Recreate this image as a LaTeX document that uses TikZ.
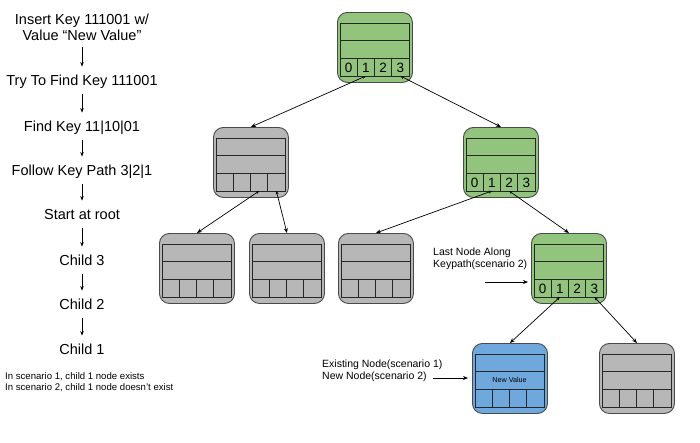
\documentclass[tikz,border=0pt]{standalone}
\usepackage{fontspec}
\setmainfont{Liberation Sans}
\usetikzlibrary{arrows.meta,calc}
\definecolor{gfill}{HTML}{93C47D}
\definecolor{grfill}{HTML}{B7B7B7}
\definecolor{bfill}{HTML}{6FA8DC}
\definecolor{edgec}{HTML}{4A4A4A}
\tikzset{
  outerbox/.style={draw=edgec, line width=0.9pt, rounded corners=10pt, minimum width=75pt, minimum height=70pt, inner sep=0pt},
  innerbox/.style={draw=black!85, line width=0.7pt},
  digit/.style={font=\fontsize{13.5}{14}\selectfont, inner sep=0pt},
  newval/.style={font=\fontsize{7.2}{8}\selectfont, inner sep=0pt},
  lt/.style={font=\fontsize{14.5}{16.5}\selectfont, inner sep=0pt, text height=10.5pt, text depth=3pt},
  ltwo/.style={font=\fontsize{14.5}{16.5}\selectfont, inner sep=0pt, align=center},
  lab/.style={font=\fontsize{10.5}{12.5}\selectfont, inner sep=0pt, align=left},
  notetext/.style={font=\fontsize{9.6}{11.5}\selectfont, inner sep=0pt, align=left},
  downarrow/.style={-{Stealth[length=4.5pt,width=3.5pt]}, line width=0.7pt, shorten <=6pt, shorten >=8pt},
  link/.style={{Stealth[length=3.5pt,width=3pt]}-{Stealth[length=5pt,width=4pt]}, line width=0.7pt},
  ptr/.style={-{Stealth[length=5pt,width=4pt]}, line width=0.7pt}
}
\newcommand\trie[5]{%
  \node[outerbox, fill=#4, anchor=north west] (#1) at (#2,#3) {};
  \begin{scope}[shift={(#2,#3)}]
    \draw[innerbox, fill=#4] (3,11) rectangle (72,28);
    \draw[innerbox, fill=#4] (3,28) rectangle (72,46);
    \draw[innerbox, fill=#4] (3,46) rectangle (72,64);
    \foreach \i in {1,2,3} \draw[innerbox] ({3+17.25*\i},46) -- ({3+17.25*\i},64);
    \foreach \i in {0,...,3} \coordinate (#1-c\i) at ({3+17.25*(\i+0.5)},64);
    \ifnum#5=1
      \foreach \i in {0,...,3} \node[digit] (#1-d\i) at ({3+17.25*(\i+0.5)},55.5) {\i};
    \fi
    \ifnum#5=2
      \node[newval] (#1-txt) at (37.5,37) {New Value};
    \fi
  \end{scope}}
\begin{document}
\begin{tikzpicture}[x=1pt,y=-1pt]
\useasboundingbox[fill=white] (0,0) rectangle (700,442);
% left column
\node[ltwo] (t1) at (82,27.5) {Insert Key 111001 w/\\Value “New Value”};
\node[lt] (t2) at (82,81.5) {Try To Find Key 111001};
\node[lt] (t3) at (82,127.5) {Find Key 11|10|01};
\node[lt] (t4) at (82,171.5) {Follow Key Path 3|2|1};
\node[lt] (t5) at (82,215.5) {Start at root};
\node[lt] (t6) at (82,261.5) {Child 3};
\node[lt] (t7) at (82,305.5) {Child 2};
\node[lt] (t8) at (82,350.5) {Child 1};
\draw[downarrow] (t1) -- (t2);
\draw[downarrow] (t2) -- (t3);
\draw[downarrow] (t3) -- (t4);
\draw[downarrow] (t4) -- (t5);
\draw[downarrow] (t5) -- (t6);
\draw[downarrow] (t6) -- (t7);
\draw[downarrow] (t7) -- (t8);
\node[notetext, anchor=west] (note) at (5,382) {In scenario 1, child 1 node exists\\In scenario 2, child 1 node doesn't exist};
% tree
\trie{root}{337}{12}{gfill}{1}
\trie{l1}{213}{127}{grfill}{0}
\trie{r1}{463}{127}{gfill}{1}
\trie{g1}{159}{233}{grfill}{0}
\trie{g2}{249}{233}{grfill}{0}
\trie{g3}{338}{233}{grfill}{0}
\trie{n2}{531}{233}{gfill}{1}
\trie{nb}{472}{343}{bfill}{2}
\trie{n4}{599}{343}{grfill}{0}
\draw[link] (root-c1) -- (l1.north);
\draw[link] (root-c3) -- (r1.north);
\draw[link] (l1-c2) -- (g1.north);
\draw[link] (l1-c3) -- (g2.north);
\draw[link] (r1-c1) -- (g3.north);
\draw[link] (r1-c2) -- (n2.north);
\draw[link] (n2-c1) -- (nb.north);
\draw[link] (n2-c3) -- (n4.north);
% labels
\node[lab, anchor=west] (lab1) at (433,259) {Last Node Along\\Keypath(scenario 2)};
\coordinate (p1) at (485,282);
\draw[ptr, shorten >=3pt] (p1) -- (p1 -| n2.west);
\node[lab, anchor=west] (lab2) at (322,371) {Existing Node(scenario 1)\\New Node(scenario 2)};
\coordinate (p2) at (433,378);
\draw[ptr, shorten >=4pt] (p2) -- (p2 -| nb.west);
\end{tikzpicture}
\end{document}
